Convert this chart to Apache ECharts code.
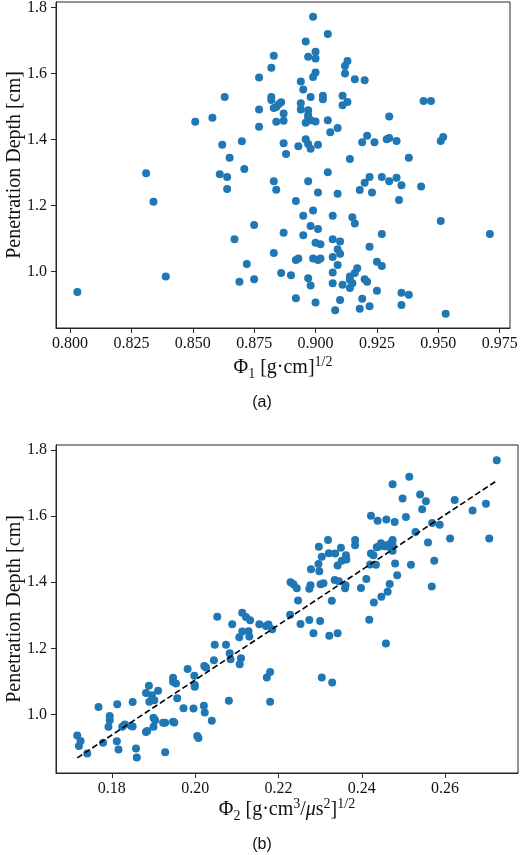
<!DOCTYPE html>
<html>
<head>
<meta charset="utf-8">
<script src="https://cdn.jsdelivr.net/npm/echarts@6/dist/echarts.min.js"></script>
<style>
html,body{margin:0;padding:0;background:#fff;}
#chart{width:520px;height:855px;}
</style>
</head>
<body>
<div id="chart"></div>
<script>
// Panel (a): Phi1 vs penetration depth
const phi1 = [0.899,0.905,0.896,0.883,0.900,0.897,0.900,0.882,0.900,0.899,0.877,0.894,0.895,0.913,0.912,0.912,0.916,0.920,0.863,0.898,
0.903,0.903,0.882,0.882,0.886,0.885,0.884,0.883,0.877,0.894,0.894,0.897,0.897,0.897,0.898,0.896,0.900,0.887,0.887,0.884,
0.905,0.851,0.858,0.877,0.906,0.909,0.862,0.870,0.865,0.887,0.888,0.893,0.896,0.897,0.898,0.901,0.871,0.911,0.913,0.911,
0.944,0.947,0.930,0.921,0.919,0.924,0.929,0.930,0.933,0.951,0.952,0.938,0.914,0.905,0.883,0.884,0.897,0.901,0.909,0.918,
0.920,0.922,0.923,0.927,0.930,0.933,0.935,0.943,0.892,0.934,0.895,0.899,0.907,0.915,0.916,0.951,0.887,0.895,0.898,0.901,
0.971,0.927,0.900,0.902,0.907,0.910,0.883,0.922,0.909,0.910,0.892,0.893,0.899,0.901,0.902,0.907,0.909,0.925,0.927,0.886,
0.890,0.897,0.898,0.907,0.917,0.916,0.914,0.914,0.915,0.914,0.907,0.911,0.920,0.921,0.925,0.935,0.938,0.892,0.900,0.910,
0.919,0.922,0.918,0.908,0.935,0.953,0.875,0.867,0.872,0.869,0.875,0.834,0.839,0.803,0.831,0.861,0.864,0.864];
const depthA = [1.772,1.720,1.697,1.654,1.666,1.651,1.646,1.618,1.603,1.590,1.588,1.576,1.552,1.638,1.623,1.600,1.583,1.580,1.529,1.529,
1.533,1.522,1.529,1.520,1.513,1.507,1.499,1.496,1.491,1.510,1.491,1.489,1.474,1.467,1.459,1.451,1.455,1.479,1.457,1.454,
1.459,1.454,1.466,1.439,1.422,1.435,1.384,1.395,1.345,1.389,1.356,1.380,1.401,1.387,1.372,1.384,1.311,1.533,1.514,1.504,
1.517,1.517,1.470,1.412,1.392,1.392,1.401,1.405,1.396,1.396,1.408,1.345,1.341,1.301,1.274,1.248,1.274,1.240,1.236,1.247,
1.269,1.287,1.240,1.287,1.274,1.284,1.262,1.258,1.214,1.217,1.169,1.185,1.169,1.165,1.146,1.153,1.118,1.110,1.138,1.129,
1.114,1.114,1.087,1.083,1.098,1.091,1.056,1.075,1.068,1.054,1.035,1.040,1.040,1.035,1.040,1.044,1.020,1.030,1.017,0.996,
0.989,0.980,0.958,0.997,1.010,0.996,0.985,0.975,0.965,0.950,0.965,0.960,0.977,0.969,0.942,0.936,0.930,0.919,0.906,0.914,
0.918,0.895,0.887,0.883,0.899,0.872,1.141,1.098,1.023,0.969,0.977,1.212,0.985,0.938,1.298,1.295,1.287,1.250];

// Panel (b): Phi2 vs penetration depth
const phi2 = [0.2724,0.2514,0.2474,0.2498,0.2540,0.2554,0.2545,0.2623,0.2698,0.2666,0.2422,0.2438,0.2459,0.2479,0.2506,0.2529,0.2569,0.2587,0.2612,0.2706,
0.2559,0.2574,0.2568,0.2518,0.2480,0.2485,0.2411,0.2398,0.2467,0.2462,0.2447,0.2429,0.2418,0.2422,0.2428,0.2436,0.2440,0.2446,0.2454,0.2458,
0.2464,0.2470,0.2474,0.2474,0.2474,0.2420,0.2434,0.2319,0.2384,0.2384,0.2297,0.2304,0.2321,0.2336,0.2350,0.2362,0.2363,0.2352,0.2342,0.2296,
0.2298,0.2278,0.2335,0.2345,0.2308,0.2301,0.2277,0.2274,0.2361,0.2360,0.2247,0.2328,0.2228,0.2274,0.2300,0.2253,0.2284,0.2322,0.2342,0.2229,
0.2236,0.2244,0.2458,0.2180,0.2172,0.2304,0.2329,0.2180,0.2154,0.2170,0.2176,0.2185,0.2053,0.2089,0.2113,0.2122,0.2132,0.2106,0.2113,0.2128,
0.2130,0.2047,0.2074,0.2083,0.2085,0.2110,0.2107,0.2045,0.2022,0.2026,0.1982,0.1998,0.1947,0.1957,0.1972,0.1996,0.1947,0.1954,0.1999,0.1999,
0.2021,0.2023,0.2040,0.2081,0.1889,0.1882,0.1911,0.1896,0.1902,0.1890,0.1850,0.1813,0.1768,0.1795,0.1795,0.1792,0.1825,0.1831,0.1846,0.1850,
0.1900,0.1904,0.1900,0.1947,0.1950,0.1928,0.1923,0.2005,0.2008,0.1882,0.1885,0.1812,0.1816,0.1779,0.1717,0.1725,0.1721,0.1741,0.1858,0.1860,0.1928];
const depthB = [1.769,1.719,1.696,1.653,1.665,1.645,1.621,1.649,1.637,1.617,1.601,1.586,1.590,1.582,1.597,1.552,1.579,1.574,1.532,1.532,
1.520,1.465,1.387,1.453,1.457,1.421,1.410,1.383,1.395,1.371,1.356,1.339,1.287,1.487,1.482,1.506,1.507,1.518,1.509,1.512,
1.507,1.519,1.528,1.512,1.495,1.454,1.453,1.528,1.528,1.512,1.507,1.477,1.488,1.487,1.504,1.482,1.469,1.465,1.451,1.455,
1.433,1.439,1.407,1.403,1.397,1.394,1.391,1.380,1.391,1.382,1.345,1.344,1.302,1.286,1.283,1.274,1.246,1.238,1.246,1.400,
1.394,1.382,1.215,1.129,1.112,1.112,1.097,1.039,1.273,1.268,1.272,1.258,1.296,1.273,1.308,1.295,1.285,1.234,1.251,1.252,
1.236,1.211,1.211,1.185,1.167,1.170,1.152,1.164,1.147,1.142,1.138,1.117,1.111,1.049,1.019,1.018,1.099,1.094,1.089,1.084,
1.027,1.006,0.981,1.042,1.087,1.065,1.072,1.058,1.043,1.039,1.038,1.031,1.023,0.996,0.983,0.963,0.963,0.970,0.966,0.964,
0.990,0.983,0.963,0.978,0.976,0.975,0.975,0.935,0.929,0.947,0.950,0.919,0.894,0.915,0.937,0.920,0.905,0.882,0.897,0.870,0.886];

// Fitted trend line in panel (b), read from its two ends
const fitX = [0.1717, 0.2724];
const fitY = [0.869, 1.707];

// Tick labels
const ticksPhi1 = [0.800,0.825,0.850,0.875,0.900,0.925,0.950,0.975];
const ticksPhi2 = [0.18,0.20,0.22,0.24,0.26];
const ticksDepth = [1.0,1.2,1.4,1.6,1.8];

const serif = "'Liberation Serif', 'Times New Roman', serif";
const ink = '#111';
const frame = '#262626';
const blue = '#1f77b4';

const richBase = {
  a: {fontFamily: serif, fontSize: 20, lineHeight: 26, color: ink, verticalAlign: 'middle'},
  i: {fontFamily: serif, fontSize: 20, lineHeight: 26, color: ink, fontStyle: 'italic', verticalAlign: 'middle'},
  sub: {fontFamily: serif, fontSize: 14, lineHeight: 14, color: ink, verticalAlign: 'bottom'},
  sup: {fontFamily: serif, fontSize: 14, lineHeight: 12, color: ink, verticalAlign: 'top'},
  sup2: {fontFamily: serif, fontSize: 14, lineHeight: 18, color: ink, verticalAlign: 'top'}
};

function valueX(gridIndex, min, max, ticks, digits, name, gap) {
  return {
    type: 'value', gridIndex, min, max, name, nameLocation: 'middle', nameGap: gap, nameMoveOverlap: false,
    nameTextStyle: {fontFamily: serif, fontSize: 20, color: ink, rich: richBase},
    axisLine: {show: true, onZero: false, lineStyle: {color: frame, width: 1}},
    axisTick: {show: true, inside: false, length: 5, customValues: ticks, lineStyle: {color: frame, width: 1}},
    axisLabel: {show: true, margin: 8, customValues: ticks, fontFamily: serif, fontSize: 16, color: ink,
      formatter: v => Number(v).toFixed(digits)},
    splitLine: {show: false}
  };
}
function valueY(gridIndex, min, max) {
  return {
    type: 'value', gridIndex, min, max, name: 'Penetration Depth [cm]', nameLocation: 'middle', nameGap: 31, nameMoveOverlap: false,
    nameTextStyle: {fontFamily: serif, fontSize: 20, color: ink},
    axisLine: {show: true, onZero: false, lineStyle: {color: frame, width: 1}},
    axisTick: {show: true, inside: false, length: 5, customValues: ticksDepth, lineStyle: {color: frame, width: 1}},
    axisLabel: {show: true, margin: 9, customValues: ticksDepth, fontFamily: serif, fontSize: 16, color: ink,
      formatter: v => Number(v).toFixed(1)},
    splitLine: {show: false}
  };
}

const chart = echarts.init(document.getElementById('chart'), null, {renderer: 'canvas', width: 520, height: 855});
chart.setOption({
  animation: false,
  backgroundColor: '#fff',
  grid: [
    {left: 56, top: 2, width: 454, height: 326, show: true, borderColor: frame, borderWidth: 1, backgroundColor: 'transparent', containLabel: false, outerBoundsMode: 'none'},
    {left: 56, top: 445, width: 462, height: 328, show: true, borderColor: frame, borderWidth: 1, backgroundColor: 'transparent', containLabel: false, outerBoundsMode: 'none'}
  ],
  xAxis: [
    valueX(0, 0.7943, 0.9792, ticksPhi1, 3, '{a|Φ}{sub|1}{a| [g·cm]}{sup|1/2}', 27),
    valueX(1, 0.1666, 0.2775, ticksPhi2, 2, '{a|Φ}{sub|2}{a| [g·cm}{sup2|3}{a|/}{i|μ}{a|s}{sup2|2}{a|]}{sup|1/2}', 24)
  ],
  yAxis: [
    valueY(0, 0.829, 1.817),
    valueY(1, 0.8233, 1.815)
  ],
  series: [
    {type: 'scatter', xAxisIndex: 0, yAxisIndex: 0, symbolSize: 8, itemStyle: {color: blue, opacity: 1},
      data: phi1.map((x, i) => [x, depthA[i]]), z: 2},
    {type: 'scatter', xAxisIndex: 1, yAxisIndex: 1, symbolSize: 8, itemStyle: {color: blue, opacity: 1},
      data: phi2.map((x, i) => [x, depthB[i]]), z: 2},
    {type: 'line', xAxisIndex: 1, yAxisIndex: 1, symbol: 'none', silent: true, z: 5,
      lineStyle: {color: '#000', width: 1.6, type: [6, 3]},
      data: fitX.map((x, i) => [x, fitY[i]])}
  ],
  graphic: [
    {type: 'text', x: 262, y: 403, style: {text: '(a)', align: 'center', verticalAlign: 'middle', fontFamily: "'Liberation Sans', Arial, sans-serif", fontSize: 16, fill: ink}},
    {type: 'text', x: 262, y: 845, style: {text: '(b)', align: 'center', verticalAlign: 'middle', fontFamily: "'Liberation Sans', Arial, sans-serif", fontSize: 16, fill: ink}}
  ]
});
</script>
</body>
</html>
